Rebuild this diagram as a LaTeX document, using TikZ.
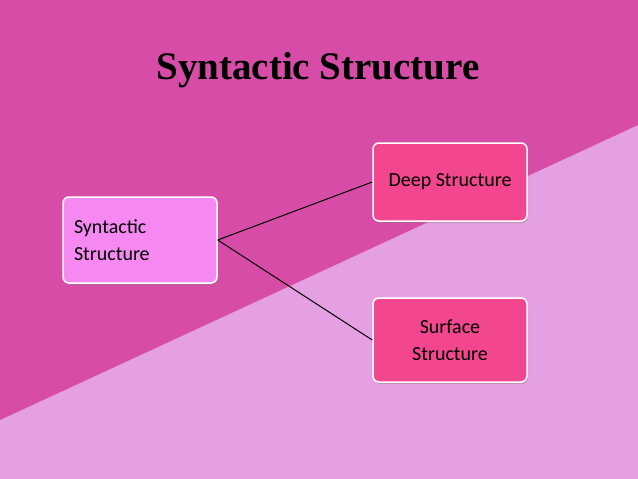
\documentclass[tikz,border=0pt]{standalone}
\usepackage{fontspec}
\setmainfont{Carlito}
\newfontfamily\titlefont{Liberation Serif}
\definecolor{bgdark}{HTML}{D74CA6}
\definecolor{bglight}{HTML}{E4A0E2}
\definecolor{boxviolet}{HTML}{F688F2}
\definecolor{boxpink}{HTML}{F2478E}
\usetikzlibrary{shadows}
\tikzset{
  box/.style={draw=white, line width=1.5pt, rounded corners=6pt, minimum width=154pt, minimum height=80pt, font=\fontsize{20}{27}\selectfont, text=black, drop shadow={opacity=0.4, shadow xshift=1pt, shadow yshift=-2pt}},
  link/.style={draw=black, line width=1pt}
}
\begin{document}
\begin{tikzpicture}[x=1pt,y=-1pt]
\useasboundingbox (0,0) rectangle (638,479);
\fill[bglight] (0,0) rectangle (638,479);
\fill[bgdark] (0,0) -- (638,0) -- (638,125) -- (0,420) -- cycle;
\node[font=\titlefont\bfseries\fontsize{39}{44}\selectfont] (title) at (318,70) {Syntactic Structure};
\node[box, fill=boxviolet, minimum height=86pt, align=left, text width=132pt] (syn) at (140,240) {Syntactic\\Structure};
\node[box, fill=boxpink, minimum height=78pt, align=center] (deep) at (450,182) {Deep Structure};
\node[box, fill=boxpink, minimum height=84pt, align=center] (surf) at (450,340) {Surface\\Structure};
\draw[link] (syn.east) -- (deep.west);
\draw[link] (syn.east) -- (surf.west);
\end{tikzpicture}
\end{document}
